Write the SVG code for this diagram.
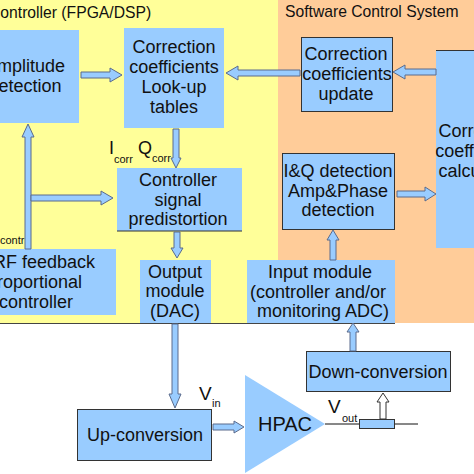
<svg xmlns="http://www.w3.org/2000/svg" width="474" height="474" viewBox="0 0 474 474">
<style>
text{font-family:"Liberation Sans",Arial,sans-serif;fill:#111}
.t{font-size:18px;text-anchor:middle}
.ts{font-size:18px}
.sub{font-size:11px}
.hd{font-size:15.7px}
.box{fill:#99ccff}
.bb{fill:#99ccff;stroke:#333;stroke-width:1}
.ar{fill:#99ccff;stroke:#5b6b8c;stroke-width:1}
.arw{fill:#fff;stroke:#333;stroke-width:1}
</style>
<rect x="0" y="0" width="278" height="323" fill="#ffff99"/>
<rect x="278" y="0" width="196" height="323" fill="#ffcc99"/>
<line x1="0" y1="323.5" x2="395" y2="323.5" stroke="#444" stroke-width="1"/>
<text class="hd" x="-11" y="18">Controller (FPGA/DSP)</text>
<text class="hd" x="285" y="17">Software Control System</text>

<g id="amp">
<rect class="box" x="-30" y="30" width="109" height="93"/>
<text class="t" x="25" y="72">Amplitude</text>
<text class="t" x="25" y="92">detection</text>
</g>
<g id="lut">
<rect class="box" x="124" y="28" width="100" height="100"/>
<text class="t" x="174" y="53">Correction</text>
<text class="t" x="174" y="73">coefficients</text>
<text class="t" x="174" y="93">Look-up</text>
<text class="t" x="174" y="113">tables</text>
</g>
<g id="update">
<rect class="bb" x="301.5" y="37.5" width="91" height="74"/>
<text class="t" x="346" y="60">Correction</text>
<text class="t" x="347" y="80">coefficients</text>
<text class="t" x="346" y="100">update</text>
</g>
<g id="calc">
<rect class="box" x="436" y="50" width="95" height="198"/>
<line x1="436" y1="50.5" x2="474" y2="50.5" stroke="#333"/>
<text class="t" x="480" y="137">Correction</text>
<text class="t" x="480" y="157">coefficients</text>
<text class="t" x="481" y="177">calculation</text>
</g>
<g id="predist">
<rect class="box" x="117" y="168" width="125" height="63"/>
<line x1="117" y1="231" x2="242" y2="231" stroke="#333"/>
<text class="t" x="178" y="186">Controller</text>
<text class="t" x="178" y="206">signal</text>
<text class="t" x="178" y="225">predistortion</text>
</g>
<g id="rf">
<rect class="box" x="-10" y="249" width="126" height="66"/>
<text class="ts" x="-7" y="268">RF feedback</text>
<text class="ts" x="-13" y="288">proportional</text>
<text class="ts" x="-1" y="308">controller</text>
</g>
<text class="sub" x="0" y="244">contr</text>
<g id="output">
<rect class="box" x="140" y="260" width="71" height="63"/>
<text class="t" x="175" y="278">Output</text>
<text class="t" x="175" y="297">module</text>
<text class="t" x="175" y="317">(DAC)</text>
</g>
<g id="iq">
<rect class="bb" x="282.5" y="153.5" width="112" height="76"/>
<text class="t" x="338" y="177">I&amp;Q detection</text>
<text class="t" x="338" y="197">Amp&amp;Phase</text>
<text class="t" x="338" y="216">detection</text>
</g>
<g id="input">
<rect class="box" x="247" y="260" width="148" height="63"/>
<text class="t" x="320" y="278">Input module</text>
<text class="t" x="318" y="298">(controller and/or</text>
<text class="t" x="323" y="317">monitoring ADC)</text>
</g>
<g id="up">
<rect class="bb" x="77.5" y="409.5" width="134" height="51"/>
<text class="t" x="145" y="441">Up-conversion</text>
</g>
<g id="hpac">
<polygon class="box" points="245,375 245,473 325,424"/>
<text x="285" y="431" style="font-size:20px;text-anchor:middle">HPAC</text>
</g>
<g id="down">
<rect class="bb" x="306.5" y="351.5" width="144" height="40"/>
<text class="t" x="378" y="378">Down-conversion</text>
</g>
<g id="coupler">
<line x1="325" y1="424" x2="418" y2="424" stroke="#111" stroke-width="1"/>
<rect class="bb" x="359.5" y="419.5" width="35" height="9"/>
</g>

<g id="labels">
<text style="font-size:18px" x="109" y="154">I</text>
<text class="sub" x="114" y="163">corr</text>
<text style="font-size:18px" x="138" y="154">Q</text>
<text class="sub" x="152" y="162">corr</text>
<text style="font-size:19px" x="199" y="400">V</text>
<text class="sub" x="212" y="407">in</text>
<text style="font-size:19px" x="328" y="413">V</text>
<text class="sub" x="342" y="422">out</text>
</g>

<g id="connectors">
<polygon class="ar" points="81,72 110,72 110,68 122,75 110,82 110,78 81,78"/>
<polygon class="ar" points="300,70 238,70 238,66 226,73 238,80 238,76 300,76"/>
<polygon class="ar" points="436,69 405,69 405,65 393,72 405,79 405,75 436,75"/>
<polygon class="ar" points="173,129 173,158 171,158 176,168 181,158 179,158 179,129"/>
<polygon class="ar" points="25,249 25,137 22,137 28,124 34,137 31,137 31,249"/>
<polygon class="ar" points="31,195 101,195 101,191 113,198 101,205 101,201 31,201"/>
<polygon class="ar" points="174,232 174,248 171,248 177,258 183,248 180,248 180,232"/>
<polygon class="ar" points="172,324 172,394 169,394 175,408 181,394 178,394 178,324"/>
<polygon class="ar" points="213,424 234,424 234,421 244,427 234,433 234,430 213,430"/>
<polygon class="arw" points="380,419 380,402 377,402 383,393 389,402 386,402 386,419"/>
<polygon class="ar" points="350,351 350,332 347,332 353,323 359,332 356,332 356,351"/>
<polygon class="ar" points="330,260 330,240 327,240 333,230 339,240 336,240 336,260"/>
<polygon class="ar" points="397,191 425,191 425,187 436,194 425,201 425,197 397,197"/>
</g>
</svg>
